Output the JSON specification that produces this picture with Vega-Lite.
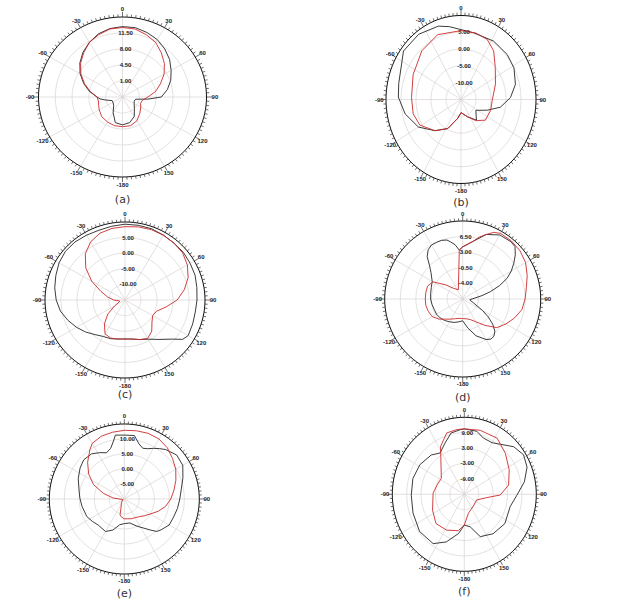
{
"$schema": "https://vega.github.io/schema/vega-lite/v6.json",
"padding": 0,
"background": "white",
"columns": 2,
"spacing": 0,
"bounds": "flush",
"config": {"view": {"stroke": null}},
"resolve": {"scale": {"x": "independent", "y": "independent"}},
"datasets": {
"circ": [{"a":0},{"a":3},{"a":6},{"a":9},{"a":12},{"a":15},{"a":18},{"a":21},{"a":24},{"a":27},{"a":30},{"a":33},{"a":36},{"a":39},{"a":42},{"a":45},{"a":48},{"a":51},{"a":54},{"a":57},{"a":60},{"a":63},{"a":66},{"a":69},{"a":72},{"a":75},{"a":78},{"a":81},{"a":84},{"a":87},{"a":90},{"a":93},{"a":96},{"a":99},{"a":102},{"a":105},{"a":108},{"a":111},{"a":114},{"a":117},{"a":120},{"a":123},{"a":126},{"a":129},{"a":132},{"a":135},{"a":138},{"a":141},{"a":144},{"a":147},{"a":150},{"a":153},{"a":156},{"a":159},{"a":162},{"a":165},{"a":168},{"a":171},{"a":174},{"a":177},{"a":180},{"a":183},{"a":186},{"a":189},{"a":192},{"a":195},{"a":198},{"a":201},{"a":204},{"a":207},{"a":210},{"a":213},{"a":216},{"a":219},{"a":222},{"a":225},{"a":228},{"a":231},{"a":234},{"a":237},{"a":240},{"a":243},{"a":246},{"a":249},{"a":252},{"a":255},{"a":258},{"a":261},{"a":264},{"a":267},{"a":270},{"a":273},{"a":276},{"a":279},{"a":282},{"a":285},{"a":288},{"a":291},{"a":294},{"a":297},{"a":300},{"a":303},{"a":306},{"a":309},{"a":312},{"a":315},{"a":318},{"a":321},{"a":324},{"a":327},{"a":330},{"a":333},{"a":336},{"a":339},{"a":342},{"a":345},{"a":348},{"a":351},{"a":354},{"a":357},{"a":360}],
"spokes": [{"a":0,"lab":"0"},{"a":30,"lab":"30"},{"a":60,"lab":"60"},{"a":90,"lab":"90"},{"a":120,"lab":"120"},{"a":150,"lab":"150"},{"a":180,"lab":"-180"},{"a":210,"lab":"-150"},{"a":240,"lab":"-120"},{"a":270,"lab":"-90"},{"a":300,"lab":"-60"},{"a":330,"lab":"-30"}],
"rlab": [
{"p":"a","v":1,"t":"1.00"},{"p":"a","v":4.5,"t":"4.50"},{"p":"a","v":8,"t":"8.00"},{"p":"a","v":11.5,"t":"11.50"},
{"p":"b","v":-10,"t":"-10.00"},{"p":"b","v":-5,"t":"-5.00"},{"p":"b","v":0,"t":"0.00"},{"p":"b","v":5,"t":"5.00"},
{"p":"c","v":-10,"t":"-10.00"},{"p":"c","v":-5,"t":"-5.00"},{"p":"c","v":0,"t":"0.00"},{"p":"c","v":5,"t":"5.00"},
{"p":"d","v":-4,"t":"-4.00"},{"p":"d","v":-0.5,"t":"-0.50"},{"p":"d","v":3,"t":"3.00"},{"p":"d","v":6.5,"t":"6.50"},
{"p":"e","v":-5,"t":"-5.00"},{"p":"e","v":0,"t":"0.00"},{"p":"e","v":5,"t":"5.00"},{"p":"e","v":10,"t":"10.00"},
{"p":"f","v":-9,"t":"-9.00"},{"p":"f","v":-3,"t":"-3.00"},{"p":"f","v":3,"t":"3.00"},{"p":"f","v":9,"t":"9.00"}],
"curves": [
{"p":"a","s":"black","a":-180,"v":3.6},{"p":"a","s":"black","a":-165,"v":3.3},{"p":"a","s":"black","a":-150,"v":1.4},{"p":"a","s":"black","a":-135,"v":0.1},{"p":"a","s":"black","a":-120,"v":-0.2},{"p":"a","s":"black","a":-110,"v":-0.2},{"p":"a","s":"black","a":-100,"v":1.2},{"p":"a","s":"black","a":-95,"v":2.2},{"p":"a","s":"black","a":-90,"v":2.8},{"p":"a","s":"black","a":-80,"v":4.5},{"p":"a","s":"black","a":-70,"v":6.1},{"p":"a","s":"black","a":-60,"v":7.7},{"p":"a","s":"black","a":-50,"v":9.1},{"p":"a","s":"black","a":-40,"v":10.3},{"p":"a","s":"black","a":-30,"v":11.3},{"p":"a","s":"black","a":-20,"v":12.2},{"p":"a","s":"black","a":-10,"v":12.7},{"p":"a","s":"black","a":0,"v":12.9},{"p":"a","s":"black","a":10,"v":12.9},{"p":"a","s":"black","a":20,"v":12.5},{"p":"a","s":"black","a":30,"v":12.0},{"p":"a","s":"black","a":40,"v":11.2},{"p":"a","s":"black","a":50,"v":10.3},{"p":"a","s":"black","a":60,"v":9.2},{"p":"a","s":"black","a":70,"v":8.2},{"p":"a","s":"black","a":80,"v":7.0},{"p":"a","s":"black","a":90,"v":5.6},{"p":"a","s":"black","a":95,"v":2.8},{"p":"a","s":"black","a":100,"v":0.3},{"p":"a","s":"black","a":110,"v":0.1},{"p":"a","s":"black","a":120,"v":0.3},{"p":"a","s":"black","a":135,"v":1.0},{"p":"a","s":"black","a":150,"v":2.4},{"p":"a","s":"black","a":165,"v":3.3},{"p":"a","s":"black","a":180,"v":3.6},
{"p":"a","s":"red","a":-180,"v":4.0},{"p":"a","s":"red","a":-165,"v":4.0},{"p":"a","s":"red","a":-150,"v":3.8},{"p":"a","s":"red","a":-135,"v":3.6},{"p":"a","s":"red","a":-120,"v":3.1},{"p":"a","s":"red","a":-110,"v":2.8},{"p":"a","s":"red","a":-100,"v":2.6},{"p":"a","s":"red","a":-90,"v":2.8},{"p":"a","s":"red","a":-80,"v":4.3},{"p":"a","s":"red","a":-70,"v":5.9},{"p":"a","s":"red","a":-60,"v":7.5},{"p":"a","s":"red","a":-50,"v":8.9},{"p":"a","s":"red","a":-40,"v":10.1},{"p":"a","s":"red","a":-30,"v":11.3},{"p":"a","s":"red","a":-20,"v":12.0},{"p":"a","s":"red","a":-10,"v":12.6},{"p":"a","s":"red","a":0,"v":12.7},{"p":"a","s":"red","a":10,"v":12.6},{"p":"a","s":"red","a":20,"v":12.0},{"p":"a","s":"red","a":30,"v":11.3},{"p":"a","s":"red","a":40,"v":10.1},{"p":"a","s":"red","a":50,"v":8.9},{"p":"a","s":"red","a":60,"v":7.5},{"p":"a","s":"red","a":70,"v":5.9},{"p":"a","s":"red","a":80,"v":4.5},{"p":"a","s":"red","a":90,"v":2.8},{"p":"a","s":"red","a":100,"v":1.7},{"p":"a","s":"red","a":110,"v":1.5},{"p":"a","s":"red","a":120,"v":1.9},{"p":"a","s":"red","a":135,"v":2.6},{"p":"a","s":"red","a":150,"v":3.5},{"p":"a","s":"red","a":165,"v":4.0},{"p":"a","s":"red","a":180,"v":4.0},
{"p":"b","s":"black","a":-180,"v":-11.1},{"p":"b","s":"black","a":-169,"v":-9.3},{"p":"b","s":"black","a":-153,"v":-5.3},{"p":"b","s":"black","a":-137,"v":-2.3},{"p":"b","s":"black","a":-120,"v":1.4},{"p":"b","s":"black","a":-103,"v":4.1},{"p":"b","s":"black","a":-88,"v":5.9},{"p":"b","s":"black","a":-77,"v":6.3},{"p":"b","s":"black","a":-53,"v":9.0},{"p":"b","s":"black","a":-36,"v":9.0},{"p":"b","s":"black","a":-19,"v":8.1},{"p":"b","s":"black","a":-10,"v":7.0},{"p":"b","s":"black","a":0,"v":5.8},{"p":"b","s":"black","a":12,"v":5.3},{"p":"b","s":"black","a":32,"v":5.5},{"p":"b","s":"black","a":49,"v":5.4},{"p":"b","s":"black","a":62,"v":5.0},{"p":"b","s":"black","a":76,"v":3.7},{"p":"b","s":"black","a":88,"v":1.5},{"p":"b","s":"black","a":100,"v":-1.7},{"p":"b","s":"black","a":110,"v":-5.7},{"p":"b","s":"black","a":123,"v":-9.1},{"p":"b","s":"black","a":140,"v":-7.0},{"p":"b","s":"black","a":157,"v":-9.4},{"p":"b","s":"black","a":180,"v":-11.1},
{"p":"b","s":"red","a":-180,"v":-11.1},{"p":"b","s":"red","a":-169,"v":-9.3},{"p":"b","s":"red","a":-153,"v":-5.3},{"p":"b","s":"red","a":-137,"v":-2.3},{"p":"b","s":"red","a":-119,"v":0.7},{"p":"b","s":"red","a":-105,"v":1.5},{"p":"b","s":"red","a":-88,"v":1.5},{"p":"b","s":"red","a":-65,"v":2.6},{"p":"b","s":"red","a":-42,"v":4.5},{"p":"b","s":"red","a":-22,"v":5.8},{"p":"b","s":"red","a":0,"v":5.5},{"p":"b","s":"red","a":14,"v":5.4},{"p":"b","s":"red","a":26,"v":4.9},{"p":"b","s":"red","a":37,"v":3.1},{"p":"b","s":"red","a":50,"v":-0.1},{"p":"b","s":"red","a":68,"v":-2.6},{"p":"b","s":"red","a":92,"v":-4.6},{"p":"b","s":"red","a":108,"v":-4.6},{"p":"b","s":"red","a":127,"v":-4.8},{"p":"b","s":"red","a":142,"v":-7.0},{"p":"b","s":"red","a":157,"v":-9.4},{"p":"b","s":"red","a":180,"v":-11.1},
{"p":"c","s":"black","a":-180,"v":-2.5},{"p":"c","s":"black","a":-170,"v":-2.3},{"p":"c","s":"black","a":-160,"v":-1.8},{"p":"c","s":"black","a":-150,"v":-1.5},{"p":"c","s":"black","a":-140,"v":-0.5},{"p":"c","s":"black","a":-130,"v":1.0},{"p":"c","s":"black","a":-120,"v":2.5},{"p":"c","s":"black","a":-110,"v":4.0},{"p":"c","s":"black","a":-100,"v":5.5},{"p":"c","s":"black","a":-90,"v":6.5},{"p":"c","s":"black","a":-80,"v":7.3},{"p":"c","s":"black","a":-70,"v":8.0},{"p":"c","s":"black","a":-60,"v":8.8},{"p":"c","s":"black","a":-50,"v":9.3},{"p":"c","s":"black","a":-40,"v":9.3},{"p":"c","s":"black","a":-30,"v":9.0},{"p":"c","s":"black","a":-20,"v":8.8},{"p":"c","s":"black","a":-10,"v":9.0},{"p":"c","s":"black","a":0,"v":9.3},{"p":"c","s":"black","a":10,"v":9.3},{"p":"c","s":"black","a":20,"v":9.3},{"p":"c","s":"black","a":30,"v":9.0},{"p":"c","s":"black","a":40,"v":8.8},{"p":"c","s":"black","a":50,"v":8.8},{"p":"c","s":"black","a":60,"v":8.5},{"p":"c","s":"black","a":70,"v":8.3},{"p":"c","s":"black","a":80,"v":7.8},{"p":"c","s":"black","a":90,"v":7.5},{"p":"c","s":"black","a":100,"v":7.3},{"p":"c","s":"black","a":110,"v":7.5},{"p":"c","s":"black","a":120,"v":7.8},{"p":"c","s":"black","a":125,"v":7.0},{"p":"c","s":"black","a":130,"v":4.5},{"p":"c","s":"black","a":140,"v":1.5},{"p":"c","s":"black","a":150,"v":-0.5},{"p":"c","s":"black","a":160,"v":-1.5},{"p":"c","s":"black","a":170,"v":-2.3},{"p":"c","s":"black","a":180,"v":-2.5},
{"p":"c","s":"red","a":-180,"v":-2.5},{"p":"c","s":"red","a":-170,"v":-2.3},{"p":"c","s":"red","a":-160,"v":-2.0},{"p":"c","s":"red","a":-150,"v":-2.5},{"p":"c","s":"red","a":-140,"v":-5.0},{"p":"c","s":"red","a":-130,"v":-8.0},{"p":"c","s":"red","a":-120,"v":-11.3},{"p":"c","s":"red","a":-110,"v":-13.0},{"p":"c","s":"red","a":-100,"v":-13.3},{"p":"c","s":"red","a":-90,"v":-11.5},{"p":"c","s":"red","a":-80,"v":-9.5},{"p":"c","s":"red","a":-70,"v":-7.0},{"p":"c","s":"red","a":-60,"v":-3.0},{"p":"c","s":"red","a":-50,"v":1.0},{"p":"c","s":"red","a":-40,"v":4.3},{"p":"c","s":"red","a":-30,"v":6.5},{"p":"c","s":"red","a":-20,"v":7.8},{"p":"c","s":"red","a":-10,"v":8.3},{"p":"c","s":"red","a":0,"v":8.5},{"p":"c","s":"red","a":10,"v":8.8},{"p":"c","s":"red","a":20,"v":9.0},{"p":"c","s":"red","a":30,"v":9.0},{"p":"c","s":"red","a":40,"v":8.8},{"p":"c","s":"red","a":50,"v":8.5},{"p":"c","s":"red","a":60,"v":7.5},{"p":"c","s":"red","a":70,"v":6.0},{"p":"c","s":"red","a":80,"v":3.8},{"p":"c","s":"red","a":90,"v":1.3},{"p":"c","s":"red","a":100,"v":-2.0},{"p":"c","s":"red","a":110,"v":-4.5},{"p":"c","s":"red","a":120,"v":-5.0},{"p":"c","s":"red","a":130,"v":-4.0},{"p":"c","s":"red","a":140,"v":-2.0},{"p":"c","s":"red","a":150,"v":-0.8},{"p":"c","s":"red","a":160,"v":-1.5},{"p":"c","s":"red","a":170,"v":-2.3},{"p":"c","s":"red","a":180,"v":-2.5},
{"p":"d","s":"black","a":-180,"v":-2.6},{"p":"d","s":"black","a":-170,"v":-2.3},{"p":"d","s":"black","a":-160,"v":-1.9},{"p":"d","s":"black","a":-150,"v":-1.6},{"p":"d","s":"black","a":-140,"v":-1.2},{"p":"d","s":"black","a":-130,"v":-0.9},{"p":"d","s":"black","a":-120,"v":-0.7},{"p":"d","s":"black","a":-110,"v":-0.7},{"p":"d","s":"black","a":-100,"v":-0.5},{"p":"d","s":"black","a":-90,"v":-0.3},{"p":"d","s":"black","a":-80,"v":-0.2},{"p":"d","s":"black","a":-70,"v":0.0},{"p":"d","s":"black","a":-60,"v":0.4},{"p":"d","s":"black","a":-50,"v":1.8},{"p":"d","s":"black","a":-45,"v":3.0},{"p":"d","s":"black","a":-40,"v":4.9},{"p":"d","s":"black","a":-35,"v":6.0},{"p":"d","s":"black","a":-30,"v":6.5},{"p":"d","s":"black","a":-25,"v":6.5},{"p":"d","s":"black","a":-20,"v":6.5},{"p":"d","s":"black","a":-15,"v":6.2},{"p":"d","s":"black","a":-12,"v":5.6},{"p":"d","s":"black","a":-8,"v":4.8},{"p":"d","s":"black","a":-4,"v":3.5},{"p":"d","s":"black","a":0,"v":4.2},{"p":"d","s":"black","a":10,"v":5.6},{"p":"d","s":"black","a":20,"v":7.9},{"p":"d","s":"black","a":30,"v":9.1},{"p":"d","s":"black","a":40,"v":9.3},{"p":"d","s":"black","a":45,"v":9.1},{"p":"d","s":"black","a":50,"v":7.9},{"p":"d","s":"black","a":55,"v":6.5},{"p":"d","s":"black","a":60,"v":5.1},{"p":"d","s":"black","a":65,"v":3.5},{"p":"d","s":"black","a":70,"v":1.3},{"p":"d","s":"black","a":75,"v":-1.0},{"p":"d","s":"black","a":80,"v":-3.1},{"p":"d","s":"black","a":90,"v":-5.4},{"p":"d","s":"black","a":95,"v":-5.9},{"p":"d","s":"black","a":100,"v":-5.8},{"p":"d","s":"black","a":110,"v":-4.9},{"p":"d","s":"black","a":120,"v":-2.4},{"p":"d","s":"black","a":125,"v":-0.5},{"p":"d","s":"black","a":130,"v":1.3},{"p":"d","s":"black","a":135,"v":2.7},{"p":"d","s":"black","a":140,"v":3.4},{"p":"d","s":"black","a":145,"v":3.5},{"p":"d","s":"black","a":150,"v":3.0},{"p":"d","s":"black","a":160,"v":1.3},{"p":"d","s":"black","a":170,"v":-0.9},{"p":"d","s":"black","a":180,"v":-2.6},
{"p":"d","s":"red","a":-180,"v":-3.1},{"p":"d","s":"red","a":-170,"v":-3.1},{"p":"d","s":"red","a":-160,"v":-2.8},{"p":"d","s":"red","a":-150,"v":-2.3},{"p":"d","s":"red","a":-140,"v":-1.6},{"p":"d","s":"red","a":-130,"v":-0.5},{"p":"d","s":"red","a":-120,"v":0.4},{"p":"d","s":"red","a":-110,"v":0.7},{"p":"d","s":"red","a":-100,"v":0.9},{"p":"d","s":"red","a":-90,"v":0.9},{"p":"d","s":"red","a":-80,"v":0.9},{"p":"d","s":"red","a":-70,"v":0.9},{"p":"d","s":"red","a":-60,"v":0.2},{"p":"d","s":"red","a":-50,"v":-2.6},{"p":"d","s":"red","a":-40,"v":-4.4},{"p":"d","s":"red","a":-25,"v":-5.2},{"p":"d","s":"red","a":-4,"v":3.5},{"p":"d","s":"red","a":0,"v":4.2},{"p":"d","s":"red","a":5,"v":4.8},{"p":"d","s":"red","a":10,"v":5.6},{"p":"d","s":"red","a":15,"v":6.9},{"p":"d","s":"red","a":20,"v":7.9},{"p":"d","s":"red","a":25,"v":9.0},{"p":"d","s":"red","a":30,"v":9.5},{"p":"d","s":"red","a":40,"v":9.5},{"p":"d","s":"red","a":50,"v":9.3},{"p":"d","s":"red","a":60,"v":8.8},{"p":"d","s":"red","a":70,"v":7.9},{"p":"d","s":"red","a":80,"v":7.0},{"p":"d","s":"red","a":90,"v":6.5},{"p":"d","s":"red","a":100,"v":6.0},{"p":"d","s":"red","a":110,"v":4.9},{"p":"d","s":"red","a":120,"v":3.7},{"p":"d","s":"red","a":130,"v":2.5},{"p":"d","s":"red","a":140,"v":0.2},{"p":"d","s":"red","a":150,"v":-1.6},{"p":"d","s":"red","a":160,"v":-2.6},{"p":"d","s":"red","a":170,"v":-3.0},{"p":"d","s":"red","a":180,"v":-3.1},
{"p":"e","s":"black","a":-180,"v":-1.8},{"p":"e","s":"black","a":-170,"v":-1.3},{"p":"e","s":"black","a":-160,"v":1.0},{"p":"e","s":"black","a":-150,"v":2.5},{"p":"e","s":"black","a":-135,"v":2.3},{"p":"e","s":"black","a":-125,"v":3.0},{"p":"e","s":"black","a":-115,"v":3.8},{"p":"e","s":"black","a":-100,"v":4.3},{"p":"e","s":"black","a":-89,"v":4.8},{"p":"e","s":"black","a":-80,"v":5.3},{"p":"e","s":"black","a":-66,"v":6.8},{"p":"e","s":"black","a":-55,"v":8.0},{"p":"e","s":"black","a":-46,"v":8.8},{"p":"e","s":"black","a":-36,"v":8.6},{"p":"e","s":"black","a":-28,"v":7.5},{"p":"e","s":"black","a":-21,"v":6.5},{"p":"e","s":"black","a":-15,"v":7.5},{"p":"e","s":"black","a":-10,"v":10.0},{"p":"e","s":"black","a":-8,"v":11.5},{"p":"e","s":"black","a":0,"v":11.3},{"p":"e","s":"black","a":5,"v":11.3},{"p":"e","s":"black","a":9,"v":11.4},{"p":"e","s":"black","a":15,"v":9.0},{"p":"e","s":"black","a":20,"v":8.0},{"p":"e","s":"black","a":25,"v":8.5},{"p":"e","s":"black","a":30,"v":9.5},{"p":"e","s":"black","a":35,"v":10.5},{"p":"e","s":"black","a":40,"v":11.5},{"p":"e","s":"black","a":50,"v":12.8},{"p":"e","s":"black","a":60,"v":12.5},{"p":"e","s":"black","a":70,"v":10.8},{"p":"e","s":"black","a":80,"v":9.3},{"p":"e","s":"black","a":90,"v":8.5},{"p":"e","s":"black","a":100,"v":8.0},{"p":"e","s":"black","a":110,"v":7.5},{"p":"e","s":"black","a":120,"v":7.3},{"p":"e","s":"black","a":130,"v":6.0},{"p":"e","s":"black","a":135,"v":5.3},{"p":"e","s":"black","a":140,"v":3.5},{"p":"e","s":"black","a":147,"v":1.5},{"p":"e","s":"black","a":155,"v":0.0},{"p":"e","s":"black","a":167,"v":-1.8},{"p":"e","s":"black","a":180,"v":-1.8},
{"p":"e","s":"red","a":-180,"v":-3.4},{"p":"e","s":"red","a":-170,"v":-4.0},{"p":"e","s":"red","a":-165,"v":-4.5},{"p":"e","s":"red","a":-160,"v":-6.8},{"p":"e","s":"red","a":-140,"v":-8.5},{"p":"e","s":"red","a":-110,"v":-9.5},{"p":"e","s":"red","a":-85,"v":-6.3},{"p":"e","s":"red","a":-75,"v":-2.8},{"p":"e","s":"red","a":-65,"v":1.3},{"p":"e","s":"red","a":-55,"v":4.5},{"p":"e","s":"red","a":-45,"v":7.3},{"p":"e","s":"red","a":-35,"v":10.0},{"p":"e","s":"red","a":-30,"v":11.4},{"p":"e","s":"red","a":-20,"v":12.3},{"p":"e","s":"red","a":-10,"v":12.6},{"p":"e","s":"red","a":0,"v":12.9},{"p":"e","s":"red","a":10,"v":13.1},{"p":"e","s":"red","a":20,"v":13.3},{"p":"e","s":"red","a":30,"v":13.1},{"p":"e","s":"red","a":40,"v":12.3},{"p":"e","s":"red","a":50,"v":11.0},{"p":"e","s":"red","a":60,"v":9.8},{"p":"e","s":"red","a":70,"v":8.3},{"p":"e","s":"red","a":80,"v":6.8},{"p":"e","s":"red","a":90,"v":5.5},{"p":"e","s":"red","a":100,"v":4.0},{"p":"e","s":"red","a":110,"v":2.0},{"p":"e","s":"red","a":120,"v":0.0},{"p":"e","s":"red","a":130,"v":-1.3},{"p":"e","s":"red","a":140,"v":-2.3},{"p":"e","s":"red","a":150,"v":-2.8},{"p":"e","s":"red","a":160,"v":-3.0},{"p":"e","s":"red","a":170,"v":-3.3},{"p":"e","s":"red","a":180,"v":-3.4},
{"p":"f","s":"black","a":-180,"v":-3.0},{"p":"f","s":"black","a":-171,"v":0.5},{"p":"f","s":"black","a":-158,"v":5.0},{"p":"f","s":"black","a":-146,"v":8.2},{"p":"f","s":"black","a":-128,"v":8.6},{"p":"f","s":"black","a":-109,"v":7.6},{"p":"f","s":"black","a":-91,"v":7.1},{"p":"f","s":"black","a":-74,"v":7.3},{"p":"f","s":"black","a":-58,"v":6.8},{"p":"f","s":"black","a":-42,"v":5.6},{"p":"f","s":"black","a":-32,"v":4.0},{"p":"f","s":"black","a":-22,"v":6.5},{"p":"f","s":"black","a":-13,"v":9.5},{"p":"f","s":"black","a":-4,"v":10.2},{"p":"f","s":"black","a":0,"v":10.5},{"p":"f","s":"black","a":12,"v":10.1},{"p":"f","s":"black","a":20,"v":8.3},{"p":"f","s":"black","a":30,"v":8.2},{"p":"f","s":"black","a":48,"v":12.7},{"p":"f","s":"black","a":58,"v":14.1},{"p":"f","s":"black","a":68,"v":13.2},{"p":"f","s":"black","a":79,"v":10.5},{"p":"f","s":"black","a":91,"v":6.9},{"p":"f","s":"black","a":104,"v":4.7},{"p":"f","s":"black","a":124,"v":5.4},{"p":"f","s":"black","a":142,"v":4.5},{"p":"f","s":"black","a":158,"v":2.8},{"p":"f","s":"black","a":169,"v":-2.1},{"p":"f","s":"black","a":180,"v":-3.0},
{"p":"f","s":"red","a":-180,"v":-3.0},{"p":"f","s":"red","a":-170,"v":-0.6},{"p":"f","s":"red","a":-152,"v":0.8},{"p":"f","s":"red","a":-134,"v":1.4},{"p":"f","s":"red","a":-115,"v":-0.4},{"p":"f","s":"red","a":-88,"v":-2.0},{"p":"f","s":"red","a":-72,"v":-3.1},{"p":"f","s":"red","a":-57,"v":-3.6},{"p":"f","s":"red","a":-36,"v":1.6},{"p":"f","s":"red","a":-28,"v":6.1},{"p":"f","s":"red","a":-17,"v":10.0},{"p":"f","s":"red","a":-7,"v":10.4},{"p":"f","s":"red","a":0,"v":10.5},{"p":"f","s":"red","a":15,"v":10.8},{"p":"f","s":"red","a":32,"v":10.8},{"p":"f","s":"red","a":47,"v":8.4},{"p":"f","s":"red","a":63,"v":6.0},{"p":"f","s":"red","a":79,"v":3.8},{"p":"f","s":"red","a":91,"v":0.0},{"p":"f","s":"red","a":98,"v":-5.6},{"p":"f","s":"red","a":113,"v":-9.4},{"p":"f","s":"red","a":140,"v":-9.1},{"p":"f","s":"red","a":167,"v":-7.4},{"p":"f","s":"red","a":180,"v":-3.0}
]
},
"concat": [
{"width":311,"height":201,
"encoding":{"x":{"field":"x","type":"quantitative","scale":{"domain":[-1.4583,2.244],"nice":false,"zero":false},"axis":null},"y":{"field":"y","type":"quantitative","scale":{"domain":[-1.3,1.2125],"nice":false,"zero":false},"axis":null}},
"layer":[
{"data":{"name":"circ"},"transform":[{"calculate":"0.2","as":"k1"},{"calculate":"0.4","as":"k2"},{"calculate":"0.6","as":"k3"},{"calculate":"0.8","as":"k4"},{"fold":["k1","k2","k3","k4"],"as":["ring","f"]},{"calculate":"datum.f*sin(datum.a*PI/180)","as":"x"},{"calculate":"datum.f*cos(datum.a*PI/180)","as":"y"}],"mark":{"type":"line","stroke":"#d8d3d3","strokeWidth":0.7},"encoding":{"detail":{"field":"ring","type":"nominal"},"order":{"field":"a","type":"quantitative"}}},
{"data":{"name":"spokes"},"transform":[{"calculate":"0","as":"x"},{"calculate":"0","as":"y"},{"calculate":"sin(datum.a*PI/180)","as":"x2"},{"calculate":"cos(datum.a*PI/180)","as":"y2"}],"mark":{"type":"rule","stroke":"#d8d3d3","strokeWidth":0.7},"encoding":{"x2":{"field":"x2"},"y2":{"field":"y2"}}},
{"data":{"name":"circ"},"transform":[{"calculate":"sin(datum.a*PI/180)","as":"x"},{"calculate":"cos(datum.a*PI/180)","as":"y"}],"mark":{"type":"line","stroke":"#111111","strokeWidth":1},"encoding":{"order":{"field":"a","type":"quantitative"}}},
{"data":{"name":"circ"},"transform":[{"filter":"datum.a<360"},{"calculate":"datum.a%30==0?1.065:1.035","as":"L"},{"calculate":"sin(datum.a*PI/180)","as":"x"},{"calculate":"cos(datum.a*PI/180)","as":"y"},{"calculate":"datum.L*sin(datum.a*PI/180)","as":"x2"},{"calculate":"datum.L*cos(datum.a*PI/180)","as":"y2"}],"mark":{"type":"rule","stroke":"#111111","strokeWidth":0.6},"encoding":{"x2":{"field":"x2"},"y2":{"field":"y2"}}},
{"data":{"name":"spokes"},"transform":[{"calculate":"1.1*sin(datum.a*PI/180)","as":"x"},{"calculate":"1.1*cos(datum.a*PI/180)","as":"y"}],"mark":{"type":"text","fontSize":6,"fontWeight":"bold","font":"Liberation Sans","color":"#222222"},"encoding":{"text":{"field":"lab"}}},
{"data":{"name":"rlab"},"transform":[{"filter":"datum.p=='a'"},{"calculate":"0","as":"x"},{"calculate":"(datum.v+2.5)/17.5","as":"y"}],"mark":{"type":"text","fontSize":6,"fontWeight":"bold","font":"Liberation Sans","color":"#222222","dx":3},"encoding":{"text":{"field":"t"}}},
{"data":{"name":"curves"},"transform":[{"filter":"datum.p=='a'"},{"calculate":"(datum.v+2.5)/17.5","as":"r"},{"calculate":"datum.r*sin(datum.a*PI/180)","as":"x"},{"calculate":"datum.r*cos(datum.a*PI/180)","as":"y"}],"mark":{"type":"line","strokeWidth":0.9},"encoding":{"color":{"field":"s","type":"nominal","scale":{"domain":["black","red"],"range":["#262626","#cc2b2b"]},"legend":null},"order":{"field":"a","type":"quantitative"}}},
{"data":{"values":[{"t":"(a)"}]},"transform":[{"calculate":"0","as":"x"},{"calculate":"-1.2875","as":"y"}],"mark":{"type":"text","fontSize":11,"font":"DejaVu Sans","color":"#333333"},"encoding":{"text":{"field":"t"}}}
]},
{"width":312,"height":201,
"encoding":{"x":{"field":"x","type":"quantitative","scale":{"domain":[-2.0,2.16],"nice":false,"zero":false},"axis":null},"y":{"field":"y","type":"quantitative","scale":{"domain":[-1.2083,1.1845],"nice":false,"zero":false},"axis":null}},
"layer":[
{"data":{"name":"circ"},"transform":[{"calculate":"0.2","as":"k1"},{"calculate":"0.4","as":"k2"},{"calculate":"0.6","as":"k3"},{"calculate":"0.8","as":"k4"},{"fold":["k1","k2","k3","k4"],"as":["ring","f"]},{"calculate":"datum.f*sin(datum.a*PI/180)","as":"x"},{"calculate":"datum.f*cos(datum.a*PI/180)","as":"y"}],"mark":{"type":"line","stroke":"#d8d3d3","strokeWidth":0.7},"encoding":{"detail":{"field":"ring","type":"nominal"},"order":{"field":"a","type":"quantitative"}}},
{"data":{"name":"spokes"},"transform":[{"calculate":"0","as":"x"},{"calculate":"0","as":"y"},{"calculate":"sin(datum.a*PI/180)","as":"x2"},{"calculate":"cos(datum.a*PI/180)","as":"y2"}],"mark":{"type":"rule","stroke":"#d8d3d3","strokeWidth":0.7},"encoding":{"x2":{"field":"x2"},"y2":{"field":"y2"}}},
{"data":{"name":"circ"},"transform":[{"calculate":"sin(datum.a*PI/180)","as":"x"},{"calculate":"cos(datum.a*PI/180)","as":"y"}],"mark":{"type":"line","stroke":"#111111","strokeWidth":1},"encoding":{"order":{"field":"a","type":"quantitative"}}},
{"data":{"name":"circ"},"transform":[{"filter":"datum.a<360"},{"calculate":"datum.a%30==0?1.065:1.035","as":"L"},{"calculate":"sin(datum.a*PI/180)","as":"x"},{"calculate":"cos(datum.a*PI/180)","as":"y"},{"calculate":"datum.L*sin(datum.a*PI/180)","as":"x2"},{"calculate":"datum.L*cos(datum.a*PI/180)","as":"y2"}],"mark":{"type":"rule","stroke":"#111111","strokeWidth":0.6},"encoding":{"x2":{"field":"x2"},"y2":{"field":"y2"}}},
{"data":{"name":"spokes"},"transform":[{"calculate":"1.09*sin(datum.a*PI/180)","as":"x"},{"calculate":"1.09*cos(datum.a*PI/180)","as":"y"}],"mark":{"type":"text","fontSize":6,"fontWeight":"bold","font":"Liberation Sans","color":"#222222"},"encoding":{"text":{"field":"lab"}}},
{"data":{"name":"rlab"},"transform":[{"filter":"datum.p=='b'"},{"calculate":"0","as":"x"},{"calculate":"(datum.v+15)/25","as":"y"}],"mark":{"type":"text","fontSize":6,"fontWeight":"bold","font":"Liberation Sans","color":"#222222","dx":3},"encoding":{"text":{"field":"t"}}},
{"data":{"name":"curves"},"transform":[{"filter":"datum.p=='b'"},{"calculate":"(datum.v+15)/25","as":"r"},{"calculate":"datum.r*sin(datum.a*PI/180)","as":"x"},{"calculate":"datum.r*cos(datum.a*PI/180)","as":"y"}],"mark":{"type":"line","strokeWidth":0.9},"encoding":{"color":{"field":"s","type":"nominal","scale":{"domain":["black","red"],"range":["#262626","#cc2b2b"]},"legend":null},"order":{"field":"a","type":"quantitative"}}},
{"data":{"values":[{"t":"(b)"}]},"transform":[{"calculate":"0","as":"x"},{"calculate":"-1.232","as":"y"}],"mark":{"type":"text","fontSize":11,"font":"DejaVu Sans","color":"#333333"},"encoding":{"text":{"field":"t"}}}
]},
{"width":311,"height":201,
"encoding":{"x":{"field":"x","type":"quantitative","scale":{"domain":[-1.5625,2.325],"nice":false,"zero":false},"axis":null},"y":{"field":"y","type":"quantitative","scale":{"domain":[-1.3077,1.2692],"nice":false,"zero":false},"axis":null}},
"layer":[
{"data":{"name":"circ"},"transform":[{"calculate":"0.2","as":"k1"},{"calculate":"0.4","as":"k2"},{"calculate":"0.6","as":"k3"},{"calculate":"0.8","as":"k4"},{"fold":["k1","k2","k3","k4"],"as":["ring","f"]},{"calculate":"datum.f*sin(datum.a*PI/180)","as":"x"},{"calculate":"datum.f*cos(datum.a*PI/180)","as":"y"}],"mark":{"type":"line","stroke":"#d8d3d3","strokeWidth":0.7},"encoding":{"detail":{"field":"ring","type":"nominal"},"order":{"field":"a","type":"quantitative"}}},
{"data":{"name":"spokes"},"transform":[{"calculate":"0","as":"x"},{"calculate":"0","as":"y"},{"calculate":"sin(datum.a*PI/180)","as":"x2"},{"calculate":"cos(datum.a*PI/180)","as":"y2"}],"mark":{"type":"rule","stroke":"#d8d3d3","strokeWidth":0.7},"encoding":{"x2":{"field":"x2"},"y2":{"field":"y2"}}},
{"data":{"name":"circ"},"transform":[{"calculate":"sin(datum.a*PI/180)","as":"x"},{"calculate":"cos(datum.a*PI/180)","as":"y"}],"mark":{"type":"line","stroke":"#111111","strokeWidth":1},"encoding":{"order":{"field":"a","type":"quantitative"}}},
{"data":{"name":"circ"},"transform":[{"filter":"datum.a<360"},{"calculate":"datum.a%30==0?1.065:1.035","as":"L"},{"calculate":"sin(datum.a*PI/180)","as":"x"},{"calculate":"cos(datum.a*PI/180)","as":"y"},{"calculate":"datum.L*sin(datum.a*PI/180)","as":"x2"},{"calculate":"datum.L*cos(datum.a*PI/180)","as":"y2"}],"mark":{"type":"rule","stroke":"#111111","strokeWidth":0.6},"encoding":{"x2":{"field":"x2"},"y2":{"field":"y2"}}},
{"data":{"name":"spokes"},"transform":[{"calculate":"1.1*sin(datum.a*PI/180)","as":"x"},{"calculate":"1.1*cos(datum.a*PI/180)","as":"y"}],"mark":{"type":"text","fontSize":6,"fontWeight":"bold","font":"Liberation Sans","color":"#222222"},"encoding":{"text":{"field":"lab"}}},
{"data":{"name":"rlab"},"transform":[{"filter":"datum.p=='c'"},{"calculate":"0","as":"x"},{"calculate":"(datum.v+15)/25","as":"y"}],"mark":{"type":"text","fontSize":6,"fontWeight":"bold","font":"Liberation Sans","color":"#222222","dx":3},"encoding":{"text":{"field":"t"}}},
{"data":{"name":"curves"},"transform":[{"filter":"datum.p=='c'"},{"calculate":"(datum.v+15)/25","as":"r"},{"calculate":"datum.r*sin(datum.a*PI/180)","as":"x"},{"calculate":"datum.r*cos(datum.a*PI/180)","as":"y"}],"mark":{"type":"line","strokeWidth":0.9},"encoding":{"color":{"field":"s","type":"nominal","scale":{"domain":["black","red"],"range":["#262626","#cc2b2b"]},"legend":null},"order":{"field":"a","type":"quantitative"}}},
{"data":{"values":[{"t":"(c)"}]},"transform":[{"calculate":"0","as":"x"},{"calculate":"-1.218","as":"y"}],"mark":{"type":"text","fontSize":11,"font":"DejaVu Sans","color":"#333333"},"encoding":{"text":{"field":"t"}}}
]},
{"width":312,"height":201,
"encoding":{"x":{"field":"x","type":"quantitative","scale":{"domain":[-1.9449,2.0551],"nice":false,"zero":false},"axis":null},"y":{"field":"y","type":"quantitative","scale":{"domain":[-1.3205,1.2564],"nice":false,"zero":false},"axis":null}},
"layer":[
{"data":{"name":"circ"},"transform":[{"calculate":"0.2","as":"k1"},{"calculate":"0.4","as":"k2"},{"calculate":"0.6","as":"k3"},{"calculate":"0.8","as":"k4"},{"fold":["k1","k2","k3","k4"],"as":["ring","f"]},{"calculate":"datum.f*sin(datum.a*PI/180)","as":"x"},{"calculate":"datum.f*cos(datum.a*PI/180)","as":"y"}],"mark":{"type":"line","stroke":"#d8d3d3","strokeWidth":0.7},"encoding":{"detail":{"field":"ring","type":"nominal"},"order":{"field":"a","type":"quantitative"}}},
{"data":{"name":"spokes"},"transform":[{"calculate":"0","as":"x"},{"calculate":"0","as":"y"},{"calculate":"sin(datum.a*PI/180)","as":"x2"},{"calculate":"cos(datum.a*PI/180)","as":"y2"}],"mark":{"type":"rule","stroke":"#d8d3d3","strokeWidth":0.7},"encoding":{"x2":{"field":"x2"},"y2":{"field":"y2"}}},
{"data":{"name":"circ"},"transform":[{"calculate":"sin(datum.a*PI/180)","as":"x"},{"calculate":"cos(datum.a*PI/180)","as":"y"}],"mark":{"type":"line","stroke":"#111111","strokeWidth":1},"encoding":{"order":{"field":"a","type":"quantitative"}}},
{"data":{"name":"circ"},"transform":[{"filter":"datum.a<360"},{"calculate":"datum.a%30==0?1.065:1.035","as":"L"},{"calculate":"sin(datum.a*PI/180)","as":"x"},{"calculate":"cos(datum.a*PI/180)","as":"y"},{"calculate":"datum.L*sin(datum.a*PI/180)","as":"x2"},{"calculate":"datum.L*cos(datum.a*PI/180)","as":"y2"}],"mark":{"type":"rule","stroke":"#111111","strokeWidth":0.6},"encoding":{"x2":{"field":"x2"},"y2":{"field":"y2"}}},
{"data":{"name":"spokes"},"transform":[{"calculate":"1.09*sin(datum.a*PI/180)","as":"x"},{"calculate":"1.09*cos(datum.a*PI/180)","as":"y"}],"mark":{"type":"text","fontSize":6,"fontWeight":"bold","font":"Liberation Sans","color":"#222222"},"encoding":{"text":{"field":"lab"}}},
{"data":{"name":"rlab"},"transform":[{"filter":"datum.p=='d'"},{"calculate":"0","as":"x"},{"calculate":"(datum.v+7.5)/17.5","as":"y"}],"mark":{"type":"text","fontSize":6,"fontWeight":"bold","font":"Liberation Sans","color":"#222222","dx":3},"encoding":{"text":{"field":"t"}}},
{"data":{"name":"curves"},"transform":[{"filter":"datum.p=='d'"},{"calculate":"(datum.v+7.5)/17.5","as":"r"},{"calculate":"datum.r*sin(datum.a*PI/180)","as":"x"},{"calculate":"datum.r*cos(datum.a*PI/180)","as":"y"}],"mark":{"type":"line","strokeWidth":0.9},"encoding":{"color":{"field":"s","type":"nominal","scale":{"domain":["black","red"],"range":["#262626","#cc2b2b"]},"legend":null},"order":{"field":"a","type":"quantitative"}}},
{"data":{"values":[{"t":"(d)"}]},"transform":[{"calculate":"0","as":"x"},{"calculate":"-1.269","as":"y"}],"mark":{"type":"text","fontSize":11,"font":"DejaVu Sans","color":"#333333"},"encoding":{"text":{"field":"t"}}}
]},
{"width":311,"height":201,
"encoding":{"x":{"field":"x","type":"quantitative","scale":{"domain":[-1.6573,2.4893],"nice":false,"zero":false},"axis":null},"y":{"field":"y","type":"quantitative","scale":{"domain":[-1.3867,1.2933],"nice":false,"zero":false},"axis":null}},
"layer":[
{"data":{"name":"circ"},"transform":[{"calculate":"0.2","as":"k1"},{"calculate":"0.4","as":"k2"},{"calculate":"0.6","as":"k3"},{"calculate":"0.8","as":"k4"},{"fold":["k1","k2","k3","k4"],"as":["ring","f"]},{"calculate":"datum.f*sin(datum.a*PI/180)","as":"x"},{"calculate":"datum.f*cos(datum.a*PI/180)","as":"y"}],"mark":{"type":"line","stroke":"#d8d3d3","strokeWidth":0.7},"encoding":{"detail":{"field":"ring","type":"nominal"},"order":{"field":"a","type":"quantitative"}}},
{"data":{"name":"spokes"},"transform":[{"calculate":"0","as":"x"},{"calculate":"0","as":"y"},{"calculate":"sin(datum.a*PI/180)","as":"x2"},{"calculate":"cos(datum.a*PI/180)","as":"y2"}],"mark":{"type":"rule","stroke":"#d8d3d3","strokeWidth":0.7},"encoding":{"x2":{"field":"x2"},"y2":{"field":"y2"}}},
{"data":{"name":"circ"},"transform":[{"calculate":"sin(datum.a*PI/180)","as":"x"},{"calculate":"cos(datum.a*PI/180)","as":"y"}],"mark":{"type":"line","stroke":"#111111","strokeWidth":1},"encoding":{"order":{"field":"a","type":"quantitative"}}},
{"data":{"name":"circ"},"transform":[{"filter":"datum.a<360"},{"calculate":"datum.a%30==0?1.065:1.035","as":"L"},{"calculate":"sin(datum.a*PI/180)","as":"x"},{"calculate":"cos(datum.a*PI/180)","as":"y"},{"calculate":"datum.L*sin(datum.a*PI/180)","as":"x2"},{"calculate":"datum.L*cos(datum.a*PI/180)","as":"y2"}],"mark":{"type":"rule","stroke":"#111111","strokeWidth":0.6},"encoding":{"x2":{"field":"x2"},"y2":{"field":"y2"}}},
{"data":{"name":"spokes"},"transform":[{"calculate":"1.1*sin(datum.a*PI/180)","as":"x"},{"calculate":"1.1*cos(datum.a*PI/180)","as":"y"}],"mark":{"type":"text","fontSize":6,"fontWeight":"bold","font":"Liberation Sans","color":"#222222"},"encoding":{"text":{"field":"lab"}}},
{"data":{"name":"rlab"},"transform":[{"filter":"datum.p=='e'"},{"calculate":"0","as":"x"},{"calculate":"(datum.v+10)/25","as":"y"}],"mark":{"type":"text","fontSize":6,"fontWeight":"bold","font":"Liberation Sans","color":"#222222","dx":3},"encoding":{"text":{"field":"t"}}},
{"data":{"name":"curves"},"transform":[{"filter":"datum.p=='e'"},{"calculate":"(datum.v+10)/25","as":"r"},{"calculate":"datum.r*sin(datum.a*PI/180)","as":"x"},{"calculate":"datum.r*cos(datum.a*PI/180)","as":"y"}],"mark":{"type":"line","strokeWidth":0.9},"encoding":{"color":{"field":"s","type":"nominal","scale":{"domain":["black","red"],"range":["#262626","#cc2b2b"]},"legend":null},"order":{"field":"a","type":"quantitative"}}},
{"data":{"values":[{"t":"(e)"}]},"transform":[{"calculate":"0","as":"x"},{"calculate":"-1.2667","as":"y"}],"mark":{"type":"text","fontSize":11,"font":"DejaVu Sans","color":"#333333"},"encoding":{"text":{"field":"t"}}}
]},
{"width":312,"height":201,
"encoding":{"x":{"field":"x","type":"quantitative","scale":{"domain":[-2.1292,2.2042],"nice":false,"zero":false},"axis":null},"y":{"field":"y","type":"quantitative","scale":{"domain":[-1.4117,1.1987],"nice":false,"zero":false},"axis":null}},
"layer":[
{"data":{"name":"circ"},"transform":[{"calculate":"0.2","as":"k1"},{"calculate":"0.4","as":"k2"},{"calculate":"0.6","as":"k3"},{"calculate":"0.8","as":"k4"},{"fold":["k1","k2","k3","k4"],"as":["ring","f"]},{"calculate":"datum.f*sin(datum.a*PI/180)","as":"x"},{"calculate":"datum.f*cos(datum.a*PI/180)","as":"y"}],"mark":{"type":"line","stroke":"#d8d3d3","strokeWidth":0.7},"encoding":{"detail":{"field":"ring","type":"nominal"},"order":{"field":"a","type":"quantitative"}}},
{"data":{"name":"spokes"},"transform":[{"calculate":"0","as":"x"},{"calculate":"0","as":"y"},{"calculate":"sin(datum.a*PI/180)","as":"x2"},{"calculate":"cos(datum.a*PI/180)","as":"y2"}],"mark":{"type":"rule","stroke":"#d8d3d3","strokeWidth":0.7},"encoding":{"x2":{"field":"x2"},"y2":{"field":"y2"}}},
{"data":{"name":"circ"},"transform":[{"calculate":"sin(datum.a*PI/180)","as":"x"},{"calculate":"cos(datum.a*PI/180)","as":"y"}],"mark":{"type":"line","stroke":"#111111","strokeWidth":1},"encoding":{"order":{"field":"a","type":"quantitative"}}},
{"data":{"name":"circ"},"transform":[{"filter":"datum.a<360"},{"calculate":"datum.a%30==0?1.065:1.035","as":"L"},{"calculate":"sin(datum.a*PI/180)","as":"x"},{"calculate":"cos(datum.a*PI/180)","as":"y"},{"calculate":"datum.L*sin(datum.a*PI/180)","as":"x2"},{"calculate":"datum.L*cos(datum.a*PI/180)","as":"y2"}],"mark":{"type":"rule","stroke":"#111111","strokeWidth":0.6},"encoding":{"x2":{"field":"x2"},"y2":{"field":"y2"}}},
{"data":{"name":"spokes"},"transform":[{"calculate":"1.1*sin(datum.a*PI/180)","as":"x"},{"calculate":"1.1*cos(datum.a*PI/180)","as":"y"}],"mark":{"type":"text","fontSize":6,"fontWeight":"bold","font":"Liberation Sans","color":"#222222"},"encoding":{"text":{"field":"lab"}}},
{"data":{"name":"rlab"},"transform":[{"filter":"datum.p=='f'"},{"calculate":"0","as":"x"},{"calculate":"(datum.v+15)/30","as":"y"}],"mark":{"type":"text","fontSize":6,"fontWeight":"bold","font":"Liberation Sans","color":"#222222","dx":3},"encoding":{"text":{"field":"t"}}},
{"data":{"name":"curves"},"transform":[{"filter":"datum.p=='f'"},{"calculate":"(datum.v+15)/30","as":"r"},{"calculate":"datum.r*sin(datum.a*PI/180)","as":"x"},{"calculate":"datum.r*cos(datum.a*PI/180)","as":"y"}],"mark":{"type":"line","strokeWidth":0.9},"encoding":{"color":{"field":"s","type":"nominal","scale":{"domain":["black","red"],"range":["#262626","#cc2b2b"]},"legend":null},"order":{"field":"a","type":"quantitative"}}},
{"data":{"values":[{"t":"(f)"}]},"transform":[{"calculate":"0","as":"x"},{"calculate":"-1.269","as":"y"}],"mark":{"type":"text","fontSize":11,"font":"DejaVu Sans","color":"#333333"},"encoding":{"text":{"field":"t"}}}
]}
]
}
